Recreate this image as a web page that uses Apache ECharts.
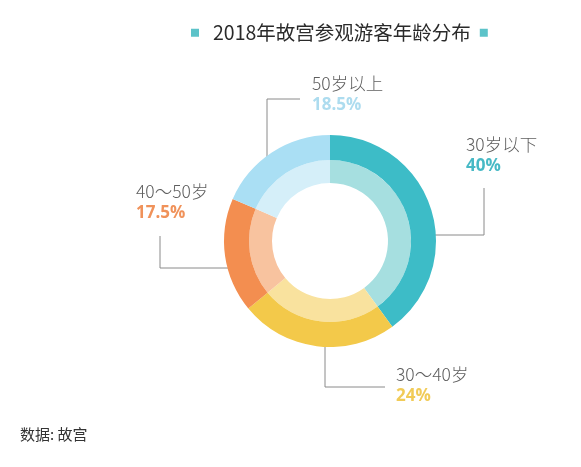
<!DOCTYPE html>
<html>
<head>
<meta charset="utf-8">
<script src="https://cdn.jsdelivr.net/npm/echarts@6/dist/echarts.min.js"></script>
<style>
  html, body { margin: 0; padding: 0; background: #fff; }
  #chart { width: 581px; height: 467px; }
</style>
</head>
<body>
<div id="chart"></div>
<script>
// data
const categories = ['30岁以下', '30～40岁', '40～50岁', '50岁以上'];
const shares = [40, 24, 17.5, 18.5];
const shareLabels = ['40%', '24%', '17.5%', '18.5%'];

// styling
const outerColors = ['#3dbcc7', '#f3c94a', '#f38e50', '#aadff4'];
const innerColors = ['#a6dfe0', '#f9e29e', '#f8c39f', '#d5eff9'];
const pctColors = ['#47b9c5', '#f1cb57', '#f0925a', '#addcef'];

// label anchor (left, middle of two lines) and leader line for each slice
const labelSpots = [
  { x: 466, y: 155, line: [[427, 235], [484, 235], [484, 188]] },
  { x: 396, y: 385, line: [[325, 338], [325, 387], [385, 387]] },
  { x: 136, y: 202, line: [[240, 268], [160, 268], [160, 236]] },
  { x: 312, y: 94, line: [[267, 167], [267, 99], [300, 99]] }
];

const chart = echarts.init(document.getElementById('chart'));
const center = [330, 241];

chart.setOption({
  animation: false,
  title: {
    text: '{s|}{gl|}2018年故宫参观游客年龄分布{gr|}{s|}',
    left: 186,
    top: 18,
    textStyle: {
      fontFamily: 'Noto Sans CJK SC',
      fontSize: 19.5,
      color: '#2a2a2a',
      fontWeight: 'normal',
      rich: {
        s: { width: 8, height: 8, backgroundColor: '#5cc3c9' },
        gl: { width: 14 },
        gr: { width: 9 }
      }
    }
  },
  graphic: [{
    type: 'text',
    left: 20,
    top: 427,
    style: {
      text: '数据: 故宫',
      font: '15px "Noto Sans CJK SC", serif',
      fill: '#333'
    }
  }],
  series: [
    {
      type: 'pie',
      center: center,
      radius: [58, 81],
      startAngle: 90,
      clockwise: true,
      silent: true,
      label: { show: false },
      labelLine: { show: false },
      data: categories.map((c, i) => ({
        name: c, value: shares[i], itemStyle: { color: innerColors[i] }
      }))
    },
    {
      type: 'pie',
      center: center,
      radius: [81, 106],
      startAngle: 90,
      clockwise: true,
      silent: true,
      label: {
        show: true,
        position: 'outside',
        fontFamily: 'Noto Sans CJK SC',
        lineHeight: 22,
        formatter: p => '{n|' + p.name + '}\n{p' + p.dataIndex + '|' + shareLabels[p.dataIndex] + '}',
        rich: {
          n: { fontSize: 17.5, color: '#5f5f5f', fontWeight: 300, lineHeight: 22, fontFamily: 'Noto Sans CJK SC' },
          p0: { fontSize: 17, color: pctColors[0], fontWeight: 'bold', lineHeight: 22, fontFamily: 'Open Sans' },
          p1: { fontSize: 17, color: pctColors[1], fontWeight: 'bold', lineHeight: 22, fontFamily: 'Open Sans' },
          p2: { fontSize: 17, color: pctColors[2], fontWeight: 'bold', lineHeight: 22, fontFamily: 'Open Sans' },
          p3: { fontSize: 17, color: pctColors[3], fontWeight: 'bold', lineHeight: 22, fontFamily: 'Open Sans' }
        }
      },
      labelLine: { show: true, lineStyle: { color: '#8a8a8a', width: 1 } },
      labelLayout: params => {
        const s = labelSpots[params.dataIndex];
        return {
          x: s.x,
          y: s.y,
          align: 'left',
          verticalAlign: 'middle',
          labelLinePoints: s.line
        };
      },
      data: categories.map((c, i) => ({
        name: c, value: shares[i], itemStyle: { color: outerColors[i] }
      }))
    }
  ]
});
</script>
</body>
</html>
